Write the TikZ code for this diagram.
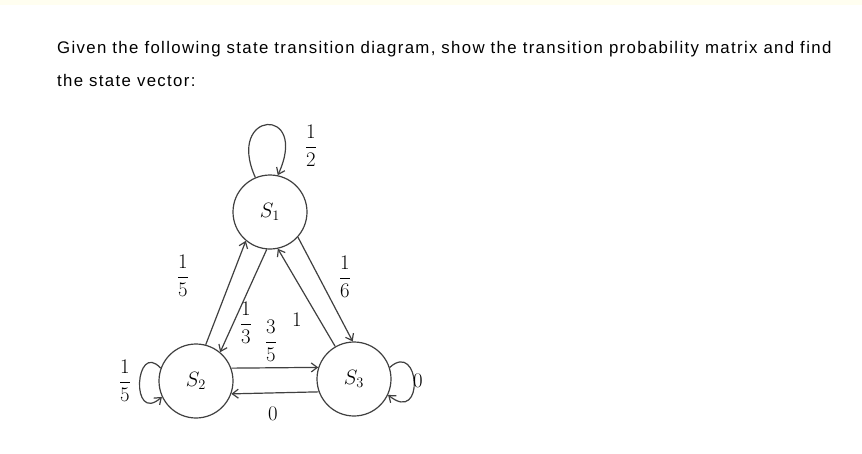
\documentclass[tikz,border=0pt]{standalone}
\usepackage{fontspec}
\setsansfont{Liberation Sans}[LetterSpace=8]
\usetikzlibrary{arrows.meta}
\begin{document}
\begin{tikzpicture}[x=1pt,y=-1pt,
  st/.style={circle,draw=black!75,line width=1.2pt,minimum size=74pt,inner sep=0pt,font=\fontsize{22}{24}\selectfont},
  ar/.style={draw=black!75,line width=1.2pt,-{Straight Barb[length=6pt,width=9pt]}},
  lb/.style={font=\fontsize{20}{22}\selectfont,inner sep=1pt,execute at begin node=$\displaystyle,execute at end node=$},
  tx/.style={font=\sffamily\fontsize{16.8}{18}\selectfont,anchor=base west,inner sep=0pt}]
\useasboundingbox (0,0) rectangle (862,453);
\fill[white] (0,0) rectangle (862,453);
\fill[yellow!6] (0,0) rectangle (862,5);
\node[tx] (t1) at (57,53) {Given the following state transition diagram, show the transition probability matrix and find};
\node[tx] (t2) at (57,86) {the state vector:};
\node[st] (s1) at (270,212) {$S_1$};
\node[st] (s2) at (196,381) {$S_2$};
\node[st] (s3) at (354,379) {$S_3$};
\draw[ar] (s1.113) .. controls (225,110) and (310,105) .. (s1.78);
\draw[ar] (s2.160) .. controls (135,340) and (130,425) .. (s2.205);
\draw[ar] (s3.18) .. controls (420,340) and (425,425) .. (s3.335);
\draw[ar] (s2.75) -- (s1.230);
\draw[ar] (s1.265) -- (s2.50);
\draw[ar] (s3.120) -- (s1.282);
\draw[ar] (s1.318) -- (s3.92);
\draw[ar] (s2.20) -- (s3.162);
\draw[ar] (s3.200) -- (s2.340);
\node[lb] (l12) at (311,146) {\frac{1}{2}};
\node[lb] (l21) at (183,276) {\frac{1}{5}};
\node[lb] (l13) at (345,277) {\frac{1}{6}};
\node[lb] (l12b) at (246,323) {\frac{1}{3}};
\node[lb] (l23) at (271,341) {\frac{3}{5}};
\node[lb] (l31) at (297,320) {1};
\node[lb] (l32) at (273,414) {0};
\node[lb] (l22) at (125,381) {\frac{1}{5}};
\node[lb] (l33) at (418,381) {0};
\end{tikzpicture}
\end{document}
